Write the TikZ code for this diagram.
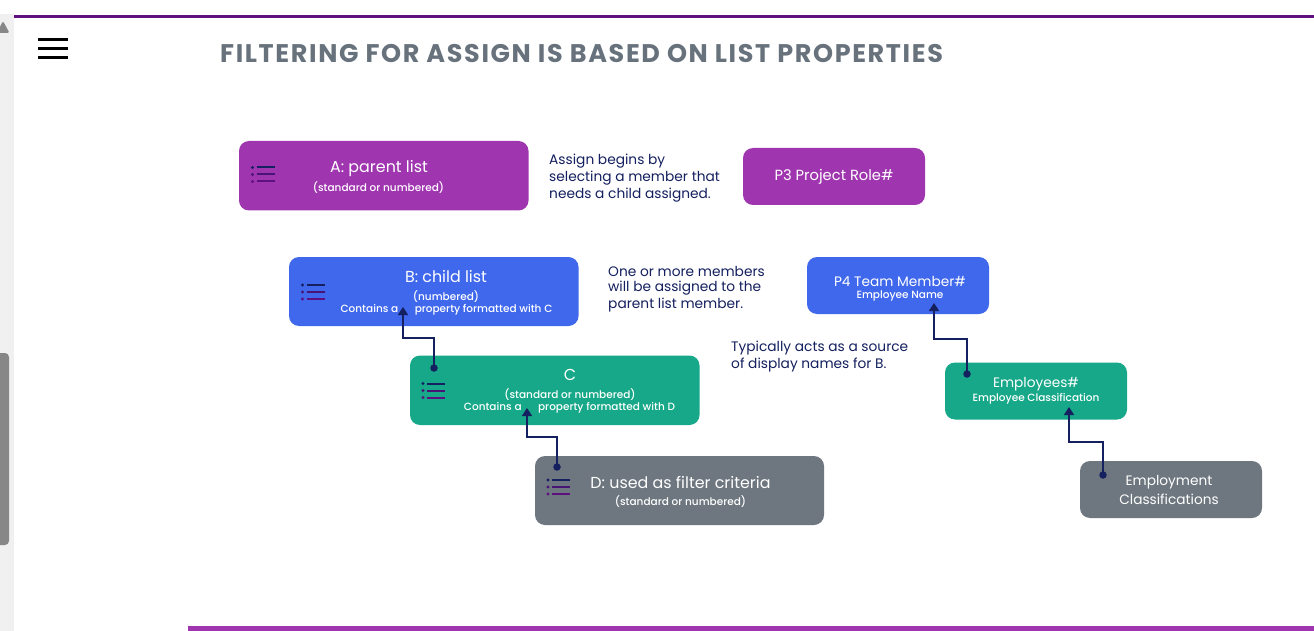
\documentclass[tikz,border=0pt]{standalone}
\usepackage{fontspec}
\setmainfont{Poppins}
\newfontfamily\titlefont[LetterSpace=6.4]{Poppins}
\newfontfamily\medfont[UprightFont=* Medium]{Poppins}
\usetikzlibrary{arrows.meta}
\definecolor{cpurple}{HTML}{A035B0}
\definecolor{cblue}{HTML}{4068EC}
\definecolor{cgreen}{HTML}{16A888}
\definecolor{cgray}{HTML}{6E7780}
\definecolor{cnavy}{HTML}{14205F}
\definecolor{ctitle}{HTML}{67727C}
\definecolor{cviolet}{HTML}{5F1080}
\tikzset{
  x=1pt,y=-1pt,
  box/.style={rounded corners=10pt,draw=none,inner sep=0pt},
  big/.style={text=white,inner sep=0pt,anchor=center,yshift=-0.7pt,font=\fontsize{15.9}{18}\selectfont},
  mid/.style={text=white,inner sep=0pt,anchor=center,yshift=-1.2pt,font=\fontsize{13.7}{16}\selectfont},
  small/.style={text=white,inner sep=0pt,anchor=center,yshift=-0.6pt,font=\medfont\fontsize{10.5}{12}\selectfont},
  body/.style={text=cnavy,inner sep=0pt,anchor=west,yshift=-1.5pt,font=\fontsize{13.75}{17}\selectfont},
  link/.style={draw=cnavy,line width=1.6pt,-{Triangle[length=8pt,width=10pt]}},
  dotnode/.style={circle,fill=cnavy,inner sep=0pt,minimum size=7.5pt},
  listicon/.pic={
    \foreach \yy/\cc in {-7/cnavy,0/cviolet!70!cnavy,7/cviolet}{
      \fill[\cc] (-10.5,\yy) circle (1.6pt);
      \draw[\cc,line width=2pt] (-6.5,\yy) -- (11.5,\yy);
    }
  }
}
\begin{document}
\begin{tikzpicture}
\useasboundingbox (0,0) rectangle (1314,631);
\fill[white] (0,0) rectangle (1314,631);
% browser chrome
\fill[black!6] (0,14) rectangle (14,631);
\fill[black!47,rounded corners=4pt] (-6,353) rectangle (9,545);
\fill[black!47,rounded corners=1.5pt] (-3,33) -- (3,21) -- (9.5,33) -- cycle;
\fill[cviolet] (14,15) rectangle (1314,18);
\fill[cpurple] (188,625.5) rectangle (1314,631);
\fill[black] (38,38) rectangle (68,41);
\fill[black] (38,47) rectangle (68,50);
\fill[black] (38,56) rectangle (68,59);
\node[inner sep=0pt,anchor=west,text=ctitle,font=\titlefont\fontsize{25.5}{28}\selectfont\bfseries] (title) at (220,53.5) {FILTERING FOR ASSIGN IS BASED ON LIST PROPERTIES};
% left column boxes
\fill[cpurple,box] (239,141) rectangle (528.5,210.5);
\fill[cblue,box] (289,257) rectangle (578.5,326);
\fill[cgreen,box] (410,355.5) rectangle (699.5,425);
\fill[cgray,box] (535,456) rectangle (824,525);
% right column boxes
\fill[cpurple,box] (743,148) rectangle (925,205);
\fill[cblue,box] (807,257) rectangle (989,314);
\fill[cgreen,box] (945,362.5) rectangle (1127,419.5);
\fill[cgray,box] (1080,461) rectangle (1262,518);
% icons
\pic at (263,174.5) {listicon};
\pic at (313,292) {listicon};
\pic at (433.5,390.5) {listicon};
\pic at (558.5,487) {listicon};
% box text
\node[big] (a1) at (379,167.5) {A: parent list};
\node[small] (a2) at (378.5,187) {(standard or numbered)};
\node[big] (b1) at (446,276) {B: child list};
\node[small] (b2) at (446,296) {(numbered)};
\node[small] (b3) at (446.5,309) {Contains a \hspace{11pt} property formatted with C};
\node[big] (c1) at (570,374.5) {C};
\node[small] (c2) at (570,394) {(standard or numbered)};
\node[small] (c3) at (569.5,407) {Contains a \hspace{11pt} property formatted with D};
\node[big] (d1) at (680.5,482) {D: used as filter criteria};
\node[small] (d2) at (680.5,501) {(standard or numbered)};
\node[mid,font=\fontsize{14.7}{16}\selectfont] (p3) at (834,176) {P3 Project Role\#};
\node[mid] (p41) at (900,280) {P4 Team Member\#};
\node[small] (p42) at (900,295) {Employee Name};
\node[mid] (e1) at (1036,383) {Employees\#};
\node[small] (e2) at (1036,398) {Employee Classification};
\node[mid] (k1) at (1169,481) {Employment};
\node[mid] (k2) at (1169,498) {Classifications};
% body text
\node[body] (t1a) at (549,160) {Assign begins by};
\node[body] (t1b) at (549,177) {selecting a member that};
\node[body] (t1c) at (549,194) {needs a child assigned.};
\node[body] (t2a) at (608,270) {One or more members};
\node[body] (t2b) at (608,287) {will be assigned to the};
\node[body] (t2c) at (608,304) {parent list member.};
\node[body] (t3a) at (731,347) {Typically acts as a source};
\node[body] (t3b) at (731,364) {of display names for B.};
% connectors
\node[dotnode] (dc) at (434,368) {};
\node[dotnode] (dd) at (557,467) {};
\node[dotnode] (de) at (967,374) {};
\node[dotnode] (dk) at (1103,475) {};
\coordinate (tb) at (403,307);
\coordinate (tc) at (527,408);
\coordinate (tp) at (934,303);
\coordinate (te) at (1069,407);
\draw[link] (dc.center) -- (434,338) -- (403,338) -- (tb);
\draw[link] (dd.center) -- (557,437) -- (527,437) -- (tc);
\draw[link] (de.center) -- (967,339) -- (934,339) -- (tp);
\draw[link] (dk.center) -- (1103,442) -- (1069,442) -- (te);
\end{tikzpicture}
\end{document}
